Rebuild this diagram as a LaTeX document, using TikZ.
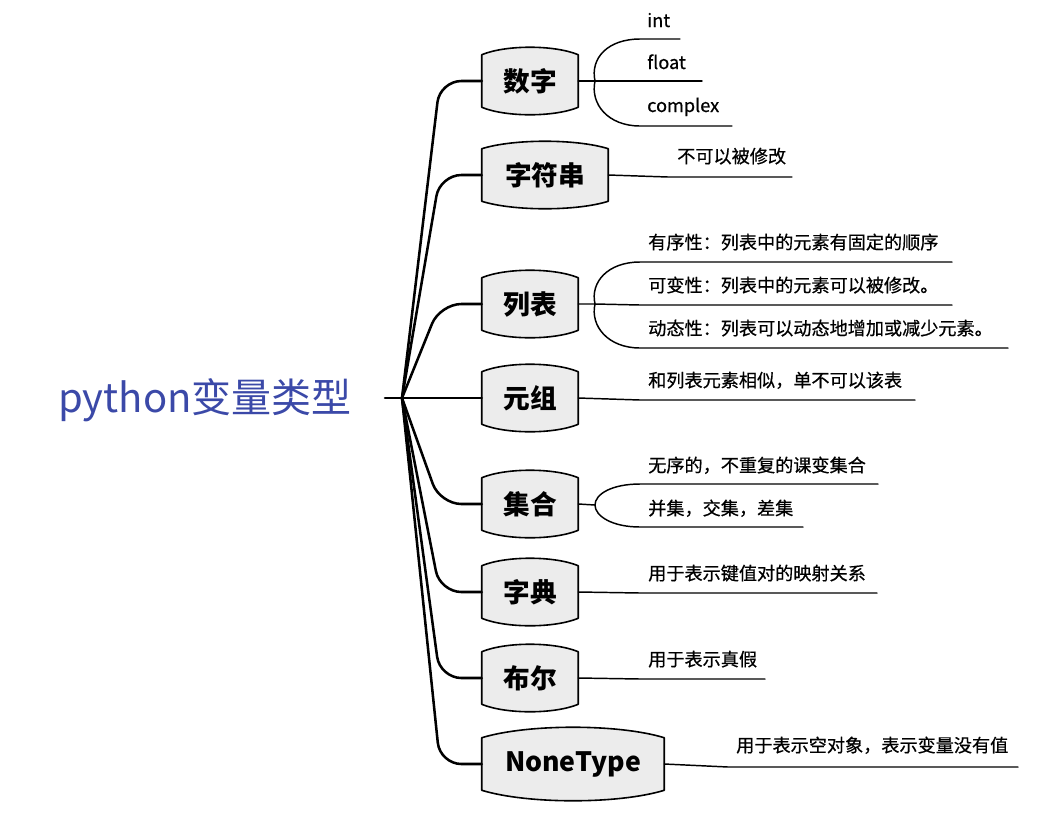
\documentclass[tikz,border=0pt]{standalone}
\usepackage{fontspec}
\setmainfont{Noto Sans CJK SC}
\newfontfamily\leaffont[FakeBold=0.6]{Noto Sans CJK SC}
\usetikzlibrary{calc,backgrounds}
\definecolor{rootblue}{HTML}{3B49A8}
\definecolor{boxgray}{HTML}{ECECEC}
\newcommand\barrel[2][10]{%
  \draw[boxline] (#2.south west) -- (#2.north west)
    .. controls ($(#2.north west)!0.25!(#2.north east)+(0,-#1)$) and ($(#2.north west)!0.75!(#2.north east)+(0,-#1)$) .. (#2.north east)
    -- (#2.south east)
    .. controls ($(#2.south west)!0.75!(#2.south east)+(0,#1)$) and ($(#2.south west)!0.25!(#2.south east)+(0,#1)$) .. (#2.south west) -- cycle;}
\tikzset{
  trunk/.style={line width=1.9pt, line cap=round, rounded corners=16pt},
  twig/.style={line width=1.1pt, line cap=round},
  boxline/.style={line width=1.2pt, fill=boxgray, line join=round},
  cat/.style={inner sep=0pt, minimum height=39pt, font=\fontsize{20}{24}\selectfont\bfseries},
  leaf/.style={anchor=base west, inner sep=0pt, font=\leaffont\fontsize{13.6}{16}\selectfont},
  rootstyle/.style={anchor=west, inner sep=0pt, text=rootblue, font=\fontsize{30}{34}\selectfont},
}
\begin{document}
\begin{tikzpicture}[x=0.75pt,y=-0.75pt]
\useasboundingbox (0,0) rectangle (1057,822);
% root
\node[rootstyle] (root) at (58,400) {python变量类型};
\coordinate (rootend) at (385,398);
\coordinate (hub) at (402,398);
\coordinate (bend) at (440,0);
% categories
\node[cat, minimum width=72pt]   (num)  at (530,81)  {数字};
\node[cat, minimum width=94.5pt] (str)  at (545,175) {字符串};
\node[cat, minimum width=72pt]   (lst)  at (530,304) {列表};
\node[cat, minimum width=72pt]   (tup)  at (530,398) {元组};
\node[cat, minimum width=72pt]   (set)  at (530,504) {集合};
\node[cat, minimum width=72pt]   (dic)  at (530,592) {字典};
\node[cat, minimum width=72pt]   (bool) at (530,678) {布尔};
\node[cat, minimum width=136.5pt] (none) at (573,764) {NoneType};
\begin{scope}[on background layer]
\barrel{num}\barrel{str}\barrel{lst}\barrel{tup}\barrel{set}\barrel{dic}\barrel{bool}\barrel[14]{none}
\end{scope}
% trunk
\draw[trunk] (rootend) -- (hub);
\draw[trunk] (hub) -- (num.west -| bend) -- (num.west);
\draw[trunk] (hub) -- (str.west -| bend) -- (str.west);
\draw[trunk] (hub) -- (lst.west -| bend) -- (lst.west);
\draw[trunk] (hub) -- (tup.west);
\draw[trunk] (hub) -- (set.west -| bend) -- (set.west);
\draw[trunk] (hub) -- (dic.west -| bend) -- (dic.west);
\draw[trunk] (hub) -- (bool.west -| bend) -- (bool.west);
\draw[trunk] (hub) -- (none.west -| bend) -- (none.west);
% numbers
\coordinate (numsp) at (595,81);
\coordinate (n1) at (640,39);  \coordinate (n1e) at (680,39);
\coordinate (n2) at (640,81);  \coordinate (n2e) at (702,81);
\coordinate (n3) at (640,126); \coordinate (n3e) at (732,126);
\draw[twig] (num.east) -- (numsp) -- (n2) -- (n2e);
\draw[twig] (numsp) .. controls (590,58) and (608,39) .. (n1) -- (n1e);
\draw[twig] (numsp) .. controls (590,104) and (608,126) .. (n3) -- (n3e);
\node[leaf] at (647,27) {int};
\node[leaf] at (647,69) {float};
\node[leaf] at (647,112) {complex};
% string
\coordinate (s1) at (668,177); \coordinate (s1e) at (792,177);
\draw[twig] (str.east) -- (s1) -- (s1e);
\node[leaf] at (677,163) {不可以被修改};
% list
\coordinate (lsp) at (595,304);
\coordinate (l1) at (640,262); \coordinate (l1e) at (952,262);
\coordinate (l2) at (640,305); \coordinate (l2e) at (952,305);
\coordinate (l3) at (640,348); \coordinate (l3e) at (1008,348);
\draw[twig] (lst.east) -- (lsp) -- (l2) -- (l2e);
\draw[twig] (lsp) .. controls (590,282) and (608,262) .. (l1) -- (l1e);
\draw[twig] (lsp) .. controls (590,326) and (608,348) .. (l3) -- (l3e);
\node[leaf] at (648,249) {有序性：列表中的元素有固定的顺序};
\node[leaf] at (648,292) {可变性：列表中的元素可以被修改。};
\node[leaf] at (648,335) {动态性：列表可以动态地增加或减少元素。};
% tuple
\coordinate (t1) at (640,400); \coordinate (t1e) at (915,400);
\draw[twig] (tup.east) -- (t1) -- (t1e);
\node[leaf] at (648,387) {和列表元素相似，单不可以该表};
% set
\coordinate (ssp) at (595,505);
\coordinate (e1) at (640,484); \coordinate (e1e) at (878,484);
\coordinate (e2) at (640,527); \coordinate (e2e) at (803,527);
\draw[twig] (set.east) -- (ssp);
\draw[twig] (ssp) .. controls (595,494) and (612,484) .. (e1) -- (e1e);
\draw[twig] (ssp) .. controls (595,516) and (612,527) .. (e2) -- (e2e);
\node[leaf] at (648,472) {无序的，不重复的课变集合};
\node[leaf] at (648,515) {并集，交集，差集};
% dict
\coordinate (d1) at (640,593); \coordinate (d1e) at (877,593);
\draw[twig] (dic.east) -- (d1) -- (d1e);
\node[leaf] at (648,580) {用于表示键值对的映射关系};
% bool
\coordinate (b1) at (640,679); \coordinate (b1e) at (765,679);
\draw[twig] (bool.east) -- (b1) -- (b1e);
\node[leaf] at (648,666) {用于表示真假};
% none
\coordinate (o1) at (728,767); \coordinate (o1e) at (1018,767);
\draw[twig] (none.east) -- (o1) -- (o1e);
\node[leaf] at (736,752) {用于表示空对象，表示变量没有值};
\end{tikzpicture}
\end{document}
